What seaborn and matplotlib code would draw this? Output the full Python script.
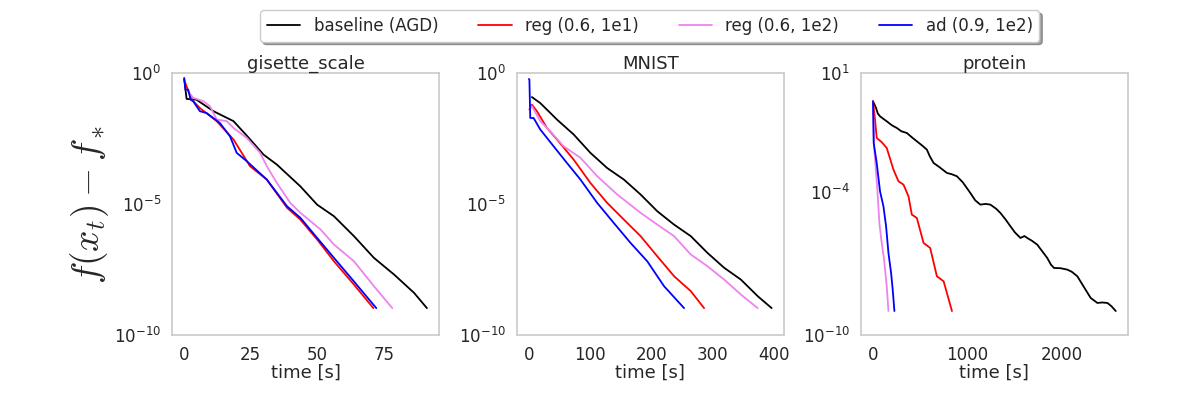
import numpy as np
import pandas as pd
import matplotlib
matplotlib.use("Agg")
import matplotlib.pyplot as plt
import seaborn as sns

# --------------------------------------------------------------------------------
# values: time [s], log10(f(x_t) - f_*)
# --------------------------------------------------------------------------------
datasets = ["gisette_scale", "MNIST", "protein"]
methods = ["baseline (AGD)", "reg (0.6, 1e1)", "reg (0.6, 1e2)", "ad (0.9, 1e2)"]
colors = ["black", "red", "violet", "blue"]

gis_base_t = [0, 0.9, 4.6, 11, 18.5, 24, 29.8, 34.8, 43.6, 49.9, 56.2, 63.7, 71.2, 78.8, 86.3, 91.1]
gis_base_y = [-0.23, -0.99, -1.02, -1.46, -1.84, -2.45, -3.12, -3.5, -4.33, -5.03, -5.47, -6.23, -7.06, -7.7, -8.4, -8.98]
gis_r1_t = [0.4, 2.8, 5.9, 12.2, 18.5, 24.7, 31, 38.6, 43.6, 49.9, 56.2, 63.7, 71]
gis_r1_y = [-0.38, -1.02, -1.34, -1.84, -2.54, -3.56, -4.07, -5.15, -5.6, -6.36, -7.19, -8.08, -8.98]
gis_r2_t = [0.9, 3.4, 7.2, 9.7, 12.2, 16, 18.5, 23.5, 28.5, 31, 34.8, 39.8, 43.6, 51.2, 56.2, 63.7, 71.2, 78.1]
gis_r2_y = [-0.64, -0.95, -1.08, -1.27, -1.78, -1.84, -2.1, -2.48, -3.05, -3.56, -4.2, -4.96, -5.34, -5.98, -6.55, -7.19, -8.14, -8.98]
gis_ad_t = [0, 0.5, 1.5, 2.4, 3.4, 5.9, 8.4, 13.4, 17.2, 19.7, 23.5, 31, 38.6, 43.6, 49.9, 56.2, 63.7, 72.1]
gis_ad_y = [-0.19, -0.64, -0.64, -1.02, -1.08, -1.46, -1.53, -1.91, -2.42, -3.05, -3.37, -4.07, -5.09, -5.53, -6.3, -7.06, -7.96, -8.98]

mn_base_t = [4.9, 18.6, 45.9, 73.2, 100.5, 127.9, 155.2, 182.5, 209.8, 237.2, 264.5, 291.8, 319.1, 346.4, 373.8, 396.7]
mn_base_y = [-0.92, -1.15, -1.78, -2.35, -3.05, -3.63, -4.07, -4.64, -5.28, -5.79, -6.23, -6.87, -7.44, -7.89, -8.52, -8.98]
mn_r1_t = [2.2, 4.9, 13.1, 29.5, 45.9, 73.2, 100.5, 127.9, 155.2, 182.5, 209.8, 237.2, 264.5, 286.3]
mn_r1_y = [-1.27, -1.21, -1.46, -2.1, -2.54, -3.31, -4.2, -4.96, -5.6, -6.23, -7.0, -7.76, -8.33, -8.98]
mn_r2_t = [0, 4.9, 18.6, 35, 56.8, 84.2, 111.5, 144.3, 182.5, 209.8, 237.2, 264.5, 291.8, 319.1, 346.4, 373.8]
mn_r2_y = [-1.4, -1.27, -1.84, -2.23, -2.8, -3.24, -3.94, -4.64, -5.34, -5.79, -6.23, -6.93, -7.38, -7.89, -8.46, -8.98]
mn_ad_t = [0, 0.8, 2.2, 7.7, 18.6, 40.4, 62.3, 84.2, 111.5, 138.8, 166.1, 193.4, 220.8, 253.6]
mn_ad_y = [-0.23, -0.25, -1.72, -1.72, -2.16, -2.8, -3.44, -4.07, -4.96, -5.73, -6.49, -7.19, -8.14, -8.98]

pr_base_t = [0, 32, 50, 74, 100, 145, 200, 251, 300, 357, 410, 463, 520, 569, 600, 640, 700, 781, 830, 887,
             950, 1028, 1080, 1134, 1190, 1240, 1300, 1346, 1400, 1452, 1500, 1558, 1600, 1629, 1680, 1735,
             1790, 1841, 1880, 1912, 1980, 2053, 2100, 2159, 2230, 2300, 2371, 2420, 2477, 2520, 2565]
pr_base_y = [-0.19, -0.47, -0.7, -0.82, -0.9, -1.03, -1.2, -1.31, -1.45, -1.52, -1.7, -1.87, -2.05, -2.22, -2.5,
             -2.78, -2.95, -3.2, -3.25, -3.34, -3.6, -4.04, -4.35, -4.53, -4.5, -4.53, -4.7, -4.88, -5.15, -5.44,
             -5.7, -5.93, -5.85, -5.93, -6.05, -6.21, -6.5, -6.77, -7.05, -7.19, -7.2, -7.26, -7.35, -7.54, -8.0,
             -8.45, -8.66, -8.64, -8.66, -8.8, -9.0]
pr_r1_t = [0, 21, 39, 90, 145, 216, 269, 322, 375, 410, 463, 534, 604, 675, 746, 834]
pr_r1_y = [-0.19, -0.96, -1.73, -1.9, -2.15, -3.06, -3.55, -3.69, -4.18, -4.95, -5.09, -6.14, -6.35, -7.54, -7.75, -9.0]
pr_r2_t = [0, 11, 46, 67, 92, 117, 145, 163]
pr_r2_y = [-0.19, -2.08, -3.9, -5.3, -6.14, -6.84, -7.96, -9.0]
pr_ad_t = [0, 7, 39, 74, 110, 138, 163, 191, 208, 226]
pr_ad_y = [-0.19, -1.94, -2.78, -3.97, -4.6, -5.44, -6.56, -7.4, -8.1, -9.0]

curves = {
    "gisette_scale": [(gis_base_t, gis_base_y), (gis_r1_t, gis_r1_y), (gis_r2_t, gis_r2_y), (gis_ad_t, gis_ad_y)],
    "MNIST": [(mn_base_t, mn_base_y), (mn_r1_t, mn_r1_y), (mn_r2_t, mn_r2_y), (mn_ad_t, mn_ad_y)],
    "protein": [(pr_base_t, pr_base_y), (pr_r1_t, pr_r1_y), (pr_r2_t, pr_r2_y), (pr_ad_t, pr_ad_y)],
}
ylims = {"gisette_scale": (1e-10, 1e0), "MNIST": (1e-10, 1e0), "protein": (1e-10, 1e1)}
yticks = {"gisette_scale": [1e-10, 1e-5, 1e0], "MNIST": [1e-10, 1e-5, 1e0], "protein": [1e-10, 1e-4, 1e1]}
xticks = {"gisette_scale": [0, 25, 50, 75], "MNIST": [0, 100, 200, 300, 400], "protein": [0, 1000, 2000]}

records = []
for name in datasets:
    for method, (t, y) in zip(methods, curves[name]):
        for ti, yi in zip(t, y):
            records.append({"dataset": name, "method": method, "time": ti, "gap": 10.0 ** yi})
df = pd.DataFrame(records)

# --------------------------------------------------------------------------------
sns.set_theme(style="whitegrid", context="notebook")
plt.rcParams["axes.grid"] = False
plt.rcParams["mathtext.fontset"] = "cm"
palette = dict(zip(methods, colors))

fig = plt.figure(figsize=(11.99, 4.17), dpi=100)
lefts = [0.1435, 0.431, 0.718]
axs = [fig.add_axes([l, 0.197, 0.2227, 0.628]) for l in lefts]

for ax, name in zip(axs, datasets):
    sub = df[df["dataset"] == name]
    sns.lineplot(data=sub, x="time", y="gap", hue="method", hue_order=methods,
                 palette=palette, sort=False, estimator=None, linewidth=1.3,
                 ax=ax, legend=False)
    ax.set_yscale("log")
    ax.set_ylim(*ylims[name])
    ax.set_yticks(yticks[name])
    ax.minorticks_off()
    ax.set_xticks(xticks[name])
    ax.set_title(name, fontsize=13, pad=3)
    ax.set_xlabel("time [s]", fontsize=13, labelpad=0)
    ax.set_ylabel("")
    ax.tick_params(labelsize=12, pad=2)

axs[0].set_ylabel("$f(x_t) - f_*$", fontsize=27, labelpad=2)

handles = [plt.Line2D([], [], color=c, lw=1.3) for c in colors]
fig.legend(handles, methods, loc="upper center", bbox_to_anchor=(0.542, 0.995), ncol=4,
           fontsize=12, frameon=True, shadow=True, fancybox=True, columnspacing=2.4)

fig.savefig("out.png", dpi=100)
